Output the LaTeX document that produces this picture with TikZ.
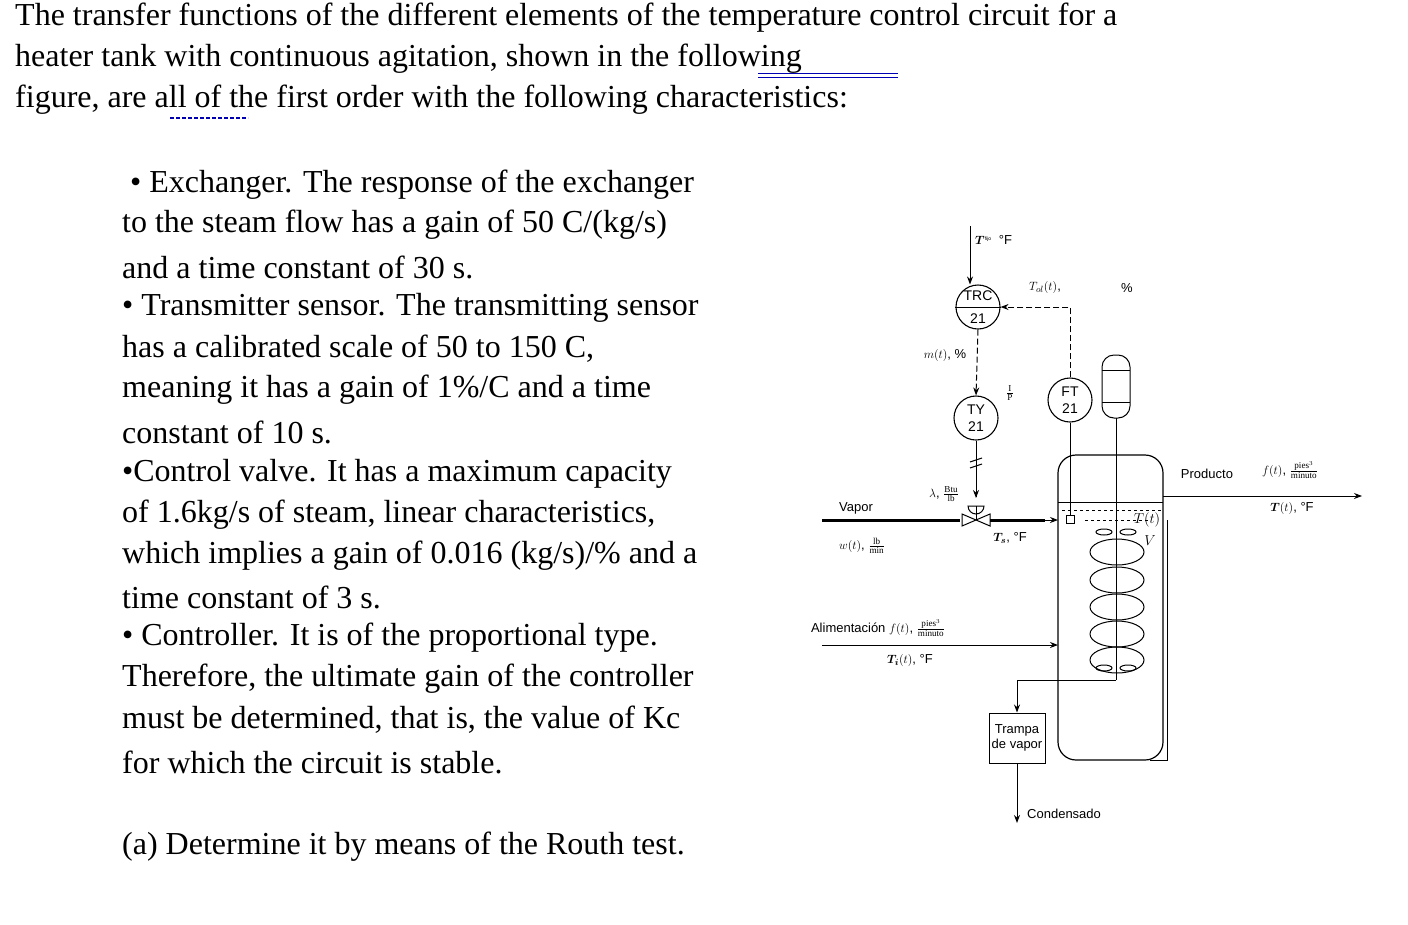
\documentclass[tikz,border=0pt]{standalone}
\usepackage{amsmath}
\usepackage{bm}
\usepackage{fontspec}
\setmainfont{Liberation Serif}
\newfontfamily\dsans{Liberation Sans}
\usetikzlibrary{arrows.meta}
\begin{document}
\begin{tikzpicture}[x=1pt,y=-1pt,
  txt/.style={anchor=west,inner sep=0pt,font=\fontsize{32}{36}\selectfont},
  lab/.style={inner sep=1pt,font=\dsans\fontsize{13}{15}\selectfont},
  inst/.style={draw,circle,minimum size=44pt,inner sep=0pt,line width=1.1pt},
  ln/.style={line width=1pt},
  sig/.style={line width=1pt,dashed,dash pattern=on 6pt off 3pt},
  arr/.style={-{Stealth[length=8pt,width=6pt]}}]
\useasboundingbox (0,0) rectangle (1408,924);
\fill[white] (0,0) rectangle (1408,924);
% heading
\node[txt] (h1) at (15,18) {The transfer functions of the different elements of the temperature control circuit for a};
\node[txt] (h2) at (15,59) {heater tank with continuous agitation, shown in the \smash{following}};
\node[txt] (h3) at (15,100) {figure, are all of the first order with the following characteristics:};
\draw[blue!70!black,line width=1pt] (758,73) -- (898,73) (758,77) -- (898,77);
\draw[blue!70!black,line width=1.5pt,dash pattern=on 4pt off 2pt] (170,118) -- (248,118);
% body
\foreach \t/\y/\x in {{• Exchanger. The response of the exchanger}/185/130,
 {to the steam flow has a gain of 50 C/(kg/s)}/225/122,
 {and a time constant of 30 s.}/267/122,
 {• Transmitter sensor. The transmitting sensor}/308/122,
 {has a calibrated scale of 50 to 150 C,}/349/122,
 {meaning it has a gain of 1\%/C and a time}/390/122,
 {constant of 10 s.}/432/122,
 {•Control valve. It has a maximum capacity}/474/122,
 {of 1.6kg/s of steam, linear characteristics,}/515/122,
 {which implies a gain of 0.016 (kg/s)/\% and a}/556/122,
 {time constant of 3 s.}/597/122,
 {• Controller. It is of the proportional type.}/638/122,
 {Therefore, the ultimate gain of the controller}/679/122,
 {must be determined, that is, the value of Kc}/720/122,
 {for which the circuit is stable.}/762/122,
 {(a) Determine it by means of the Routh test.}/847/122}
 {\node[txt] at (\x,\y) {\t};}
% instruments
\node[inst] (trc) at (978,307) {};
\draw[ln] (trc.west) -- (trc.east);
\node[lab,font=\dsans\fontsize{14}{15}\selectfont] at (978,296) {TRC};
\node[lab,font=\dsans\fontsize{14}{15}\selectfont] at (978,319) {21};
\node[inst] (ty) at (976,418) {};
\node[lab,font=\dsans\fontsize{14}{15}\selectfont,align=center] at (976,418) {TY\\[2pt]21};
\node[inst] (ft) at (1070,400) {};
\node[lab,font=\dsans\fontsize{14}{15}\selectfont,align=center] at (1070,400) {FT\\[2pt]21};
\coordinate (sp) at (970,226);
\draw[ln,arr] (sp) -- (trc.north -| sp);
\node[lab,anchor=west] at (974,240) {$\bm{T}^{\text{\tiny fijo}}$ \ °F};
\coordinate (fk) at (1070,307);
\draw[sig,arr] (ft.north) -- (fk) -- (trc.east);
\node[lab] at (1045,287) {$T_{ol}(t)$,};
\node[lab] at (1127,288) {\%};
\draw[sig,arr] (trc.south) -- (ty.north);
\node[lab] at (945,355) {$m(t)$, \%};
\node[lab,align=center] at (1010,393) {$\frac{\mathrm{I}}{\mathrm{P}}$};
% steam line and valve
\coordinate (vin) at (822,520);
\coordinate (vl) at (976,520);
\draw[line width=3pt] (vin) -- (960,520);
\draw[ln] (962,514) -- (990,526) -- (990,514) -- (962,526) -- cycle;
\draw[ln] (ty.south) -- (976,497);
\draw[ln] (970,462) -- (982,458) (970,468) -- (982,464);
\draw[ln,arr] (976,470) -- (976,498);
\draw[ln] (968,506) arc (180:0:8) -- cycle;
\draw[ln] (976,506) -- (vl);
\node[lab] at (944,494) {$\lambda$, $\frac{\mathrm{Btu}}{\mathrm{lb}}$};
\node[lab] at (856,508) {Vapor};
\node[lab] at (862,546) {$w(t)$, $\frac{\mathrm{lb}}{\mathrm{min}}$};
\node[lab] at (1010,538) {$\bm{T_s}$, °F};
% tank
\draw[line width=1.2pt,rounded corners=18pt] (1058,455) rectangle (1163,760);
\draw[ln] (1167,520) -- (1167,760) -- (1150,760);
\coordinate (tl) at (1058,520);
\draw[line width=3pt] (990,520) -- (1045,520);
\draw[ln,arr] (1045,520) -- (tl);
\draw[ln] (1058,502) -- (1163,502);
\draw[ln,dashed] (1062,510) -- (1163,510);
\draw[ln,dashed] (1085,520) -- (1150,520);
\draw[ln] (ft.south) -- (1070,515);
\draw[ln] (1066,515) rectangle (1074,523);
% motor + shaft
\draw[ln,rounded corners=12pt] (1102,355) rectangle (1130,418);
\draw[ln] (1102,370) -- (1130,370) (1102,402) -- (1130,402);
\draw[ln] (1116,418) -- (1116,680);
\foreach \yy in {532,668} {\draw[ln] (1104,\yy) ellipse (8 and 3); \draw[ln] (1128,\yy) ellipse (8 and 3);}
% coil
\foreach \yy in {552,580,607,634,660} {\draw[ln] (1117,\yy) ellipse (27 and 13);}
\node[lab,font=\itshape\fontsize{15}{15}\selectfont] at (1147,520) {$T(t)$};
\node[lab,font=\fontsize{15}{15}\selectfont] at (1150,541) {$V$};
% product
\coordinate (pout) at (1362,496);
\draw[ln,arr] (1163,496) -- (pout);
\node[lab] at (1207,474) {Producto};
\node[lab] at (1290,470) {$f(t)$, $\frac{\mathrm{pies}^3}{\mathrm{minuto}}$};
\node[lab] at (1292,508) {$\bm{T}(t)$, °F};
% feed
\coordinate (fin) at (822,645);
\coordinate (tf) at (1058,645);
\draw[ln,arr] (fin) -- (tf);
\node[lab] at (878,628) {Alimentación $f(t)$, $\frac{\mathrm{pies}^3}{\mathrm{minuto}}$};
\node[lab] at (910,660) {$\bm{T_i}(t)$, °F};
% trap
\node[draw,ln,lab,align=center,minimum width=56pt,minimum height=50pt] (trap) at (1017,738) {Trampa\\de vapor};
\coordinate (cb) at (1116,680);
\coordinate (cc) at (1017,680);
\coordinate (cout) at (1017,823);
\draw[ln,arr] (cb) -- (cc) -- (trap.north);
\draw[ln,arr] (trap.south) -- (cout);
\node[lab,anchor=west] at (1026,814) {Condensado};
\end{tikzpicture}
\end{document}
